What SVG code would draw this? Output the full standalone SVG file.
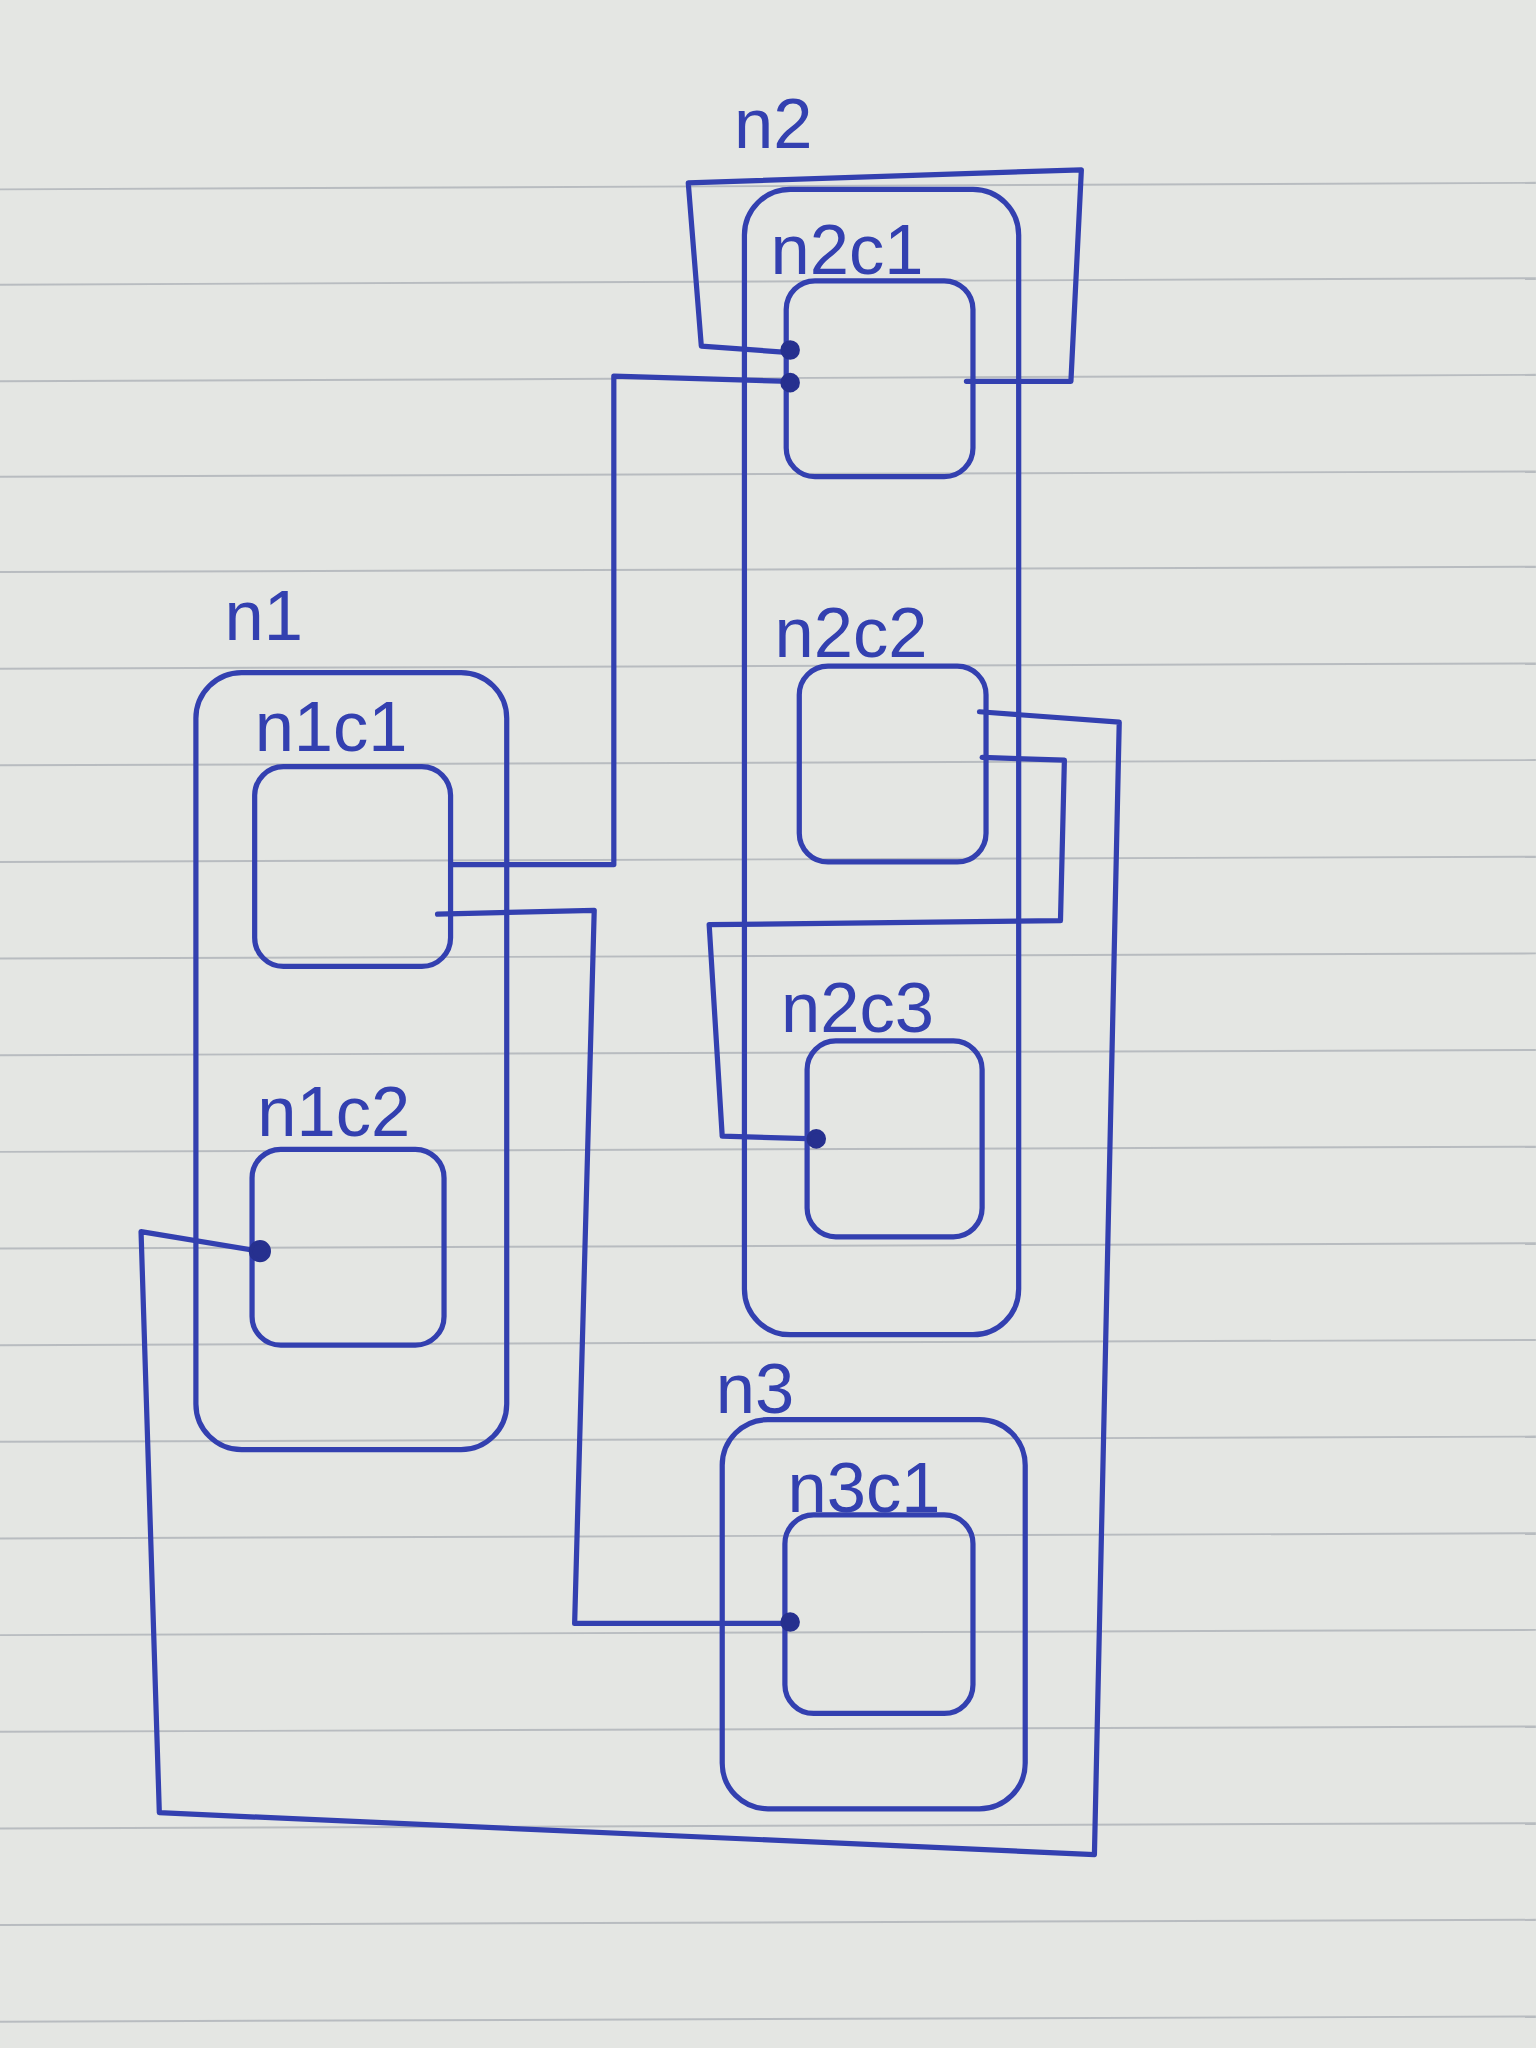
<svg xmlns="http://www.w3.org/2000/svg" width="1536" height="2048" viewBox="0 0 1536 2048">
<style>
.s{fill:none;stroke:#3340b0;stroke-width:4;stroke-linejoin:round;stroke-linecap:round}
.t{font-family:"Liberation Sans",sans-serif;font-size:54px;fill:#3340b0}
.d{fill:#26308f;stroke:#26308f;stroke-width:3}
.l{stroke:#b8bcc0;stroke-width:1.5}
</style>
<rect width="1536" height="2048" fill="#e4e6e3"/>
<g transform="scale(1.306)">
<g id="paper">
<line class="l" x1="0" y1="145" x2="1176" y2="140"/>
<line class="l" x1="0" y1="218" x2="1176" y2="213"/>
<line class="l" x1="0" y1="292" x2="1176" y2="287"/>
<line class="l" x1="0" y1="365" x2="1176" y2="361"/>
<line class="l" x1="0" y1="438" x2="1176" y2="434"/>
<line class="l" x1="0" y1="512" x2="1176" y2="508"/>
<line class="l" x1="0" y1="586" x2="1176" y2="582"/>
<line class="l" x1="0" y1="660" x2="1176" y2="656"/>
<line class="l" x1="0" y1="734" x2="1176" y2="730"/>
<line class="l" x1="0" y1="808" x2="1176" y2="804"/>
<line class="l" x1="0" y1="882" x2="1176" y2="878"/>
<line class="l" x1="0" y1="956" x2="1176" y2="952"/>
<line class="l" x1="0" y1="1030" x2="1176" y2="1026"/>
<line class="l" x1="0" y1="1104" x2="1176" y2="1100"/>
<line class="l" x1="0" y1="1178" x2="1176" y2="1174"/>
<line class="l" x1="0" y1="1252" x2="1176" y2="1248"/>
<line class="l" x1="0" y1="1326" x2="1176" y2="1322"/>
<line class="l" x1="0" y1="1400" x2="1176" y2="1396"/>
<line class="l" x1="0" y1="1474" x2="1176" y2="1470"/>
<line class="l" x1="0" y1="1548" x2="1176" y2="1544"/>
</g>
<g id="n2">
<text class="t" x="562" y="113" font-size="60">n2</text>
<path class="s" d="M740,292 L820,292 L828,130 L527,140 L537,265 L605,270"/>
<rect class="s" x="570" y="145" width="210" height="877" rx="35"/>
</g>
<g id="n2c1"><text class="t" x="590" y="210">n2c1</text><rect class="s" x="602" y="215" width="143" height="150" rx="22"/></g>
<g id="n2c2"><text class="t" x="593" y="503">n2c2</text><rect class="s" x="612" y="510" width="143" height="150" rx="22"/></g>
<g id="n2c3"><text class="t" x="598" y="790">n2c3</text><rect class="s" x="618" y="797" width="134" height="150" rx="22"/></g>
<g id="n1">
<text class="t" x="172" y="490" font-size="60">n1</text>
<rect class="s" x="150" y="515" width="238" height="595" rx="35"/>
</g>
<g id="n1c1"><text class="t" x="195" y="575">n1c1</text><rect class="s" x="195" y="587" width="150" height="153" rx="22"/></g>
<g id="n1c2"><text class="t" x="197" y="870">n1c2</text><rect class="s" x="193" y="880" width="147" height="150" rx="22"/></g>
<g id="n3">
<text class="t" x="548" y="1082" font-size="58">n3</text>
<rect class="s" x="553" y="1087" width="232" height="298" rx="35"/>
</g>
<g id="n3c1"><text class="t" x="603" y="1158">n3c1</text><rect class="s" x="601" y="1160" width="144" height="152" rx="22"/></g>
<g id="connectors">
<path class="s" d="M345,662 L470,662 L470,288 L605,292"/>
<path class="s" d="M335,700 L455,697 L440,1243 L605,1243"/>
<path class="s" d="M750,545 L857,553 L838,1420 L122,1388 L108,943 L198,958"/>
<path class="s" d="M752,580 L815,582 L812,705 L543,708 L553,870 L625,872"/>
<circle class="d" cx="605" cy="268" r="6"/>
<circle class="d" cx="605" cy="293" r="6"/>
<circle class="d" cx="625" cy="872" r="6"/>
<circle class="d" cx="199" cy="958" r="7"/>
<circle class="d" cx="605" cy="1242" r="6"/>
</g>
</g>
</svg>
